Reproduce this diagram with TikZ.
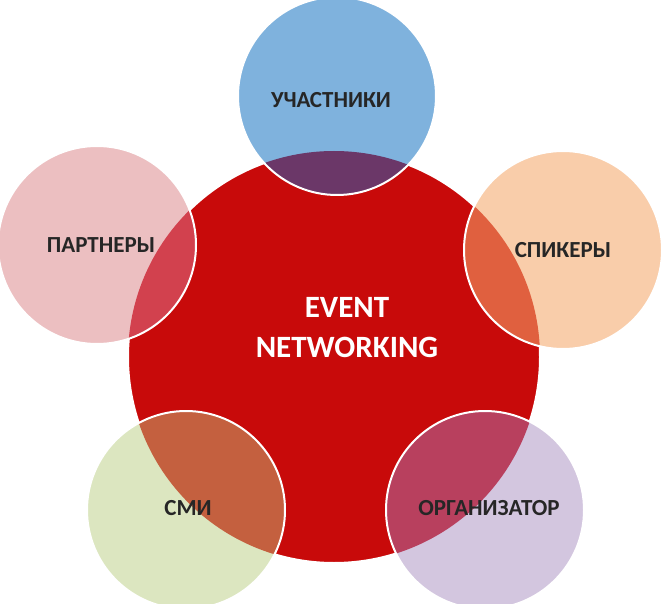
\documentclass[tikz,border=0pt]{standalone}
\usepackage{fontspec}
\setmainfont{Carlito}
\tikzset{
  sat/.style={draw=white,line width=2pt},
  lab/.style={font=\bfseries\fontsize{23}{26}\selectfont,text=black!85}
}
\definecolor{hubred}{HTML}{C80A0A}
\begin{document}
\begin{tikzpicture}[x=1pt,y=-1pt]
  \useasboundingbox (0,0) rectangle (672,604);
  % Hub
  \fill[hubred,draw=white,line width=2pt] (334,357) circle (206);
  % Satellites: centre, colour, overlap colour
  \foreach \cx/\cy/\col/\ov in {337/96/7FB2DD/6B3768,
                                563/250/F9CDAA/E0603F,
                                97/245/ECBFC1/D2414E,
                                186/510/DCE6C0/C4603F,
                                485/510/D3C6DF/B8405E}{
    \definecolor{satcol}{HTML}{\col}
    \definecolor{ovcol}{HTML}{\ov}
    \fill[satcol] (\cx,\cy) circle (99);
    \begin{scope}
      \clip (334,357) circle (206);
      \fill[ovcol] (\cx,\cy) circle (99);
    \end{scope}
    \draw[sat] (\cx,\cy) circle (99);
  }
  % Labels
  \node[font=\bfseries\fontsize{31}{40}\selectfont,text=white,align=center] (hub) at (347,328) {EVENT\\NETWORKING};
  \node[lab] (members) at (331,100) {УЧАСТНИКИ};
  \node[lab] (speakers) at (563,250) {СПИКЕРЫ};
  \node[lab] (partners) at (101,245) {ПАРТНЕРЫ};
  \node[lab] (media) at (188,508) {СМИ};
  \node[lab] (organizer) at (489,508) {ОРГАНИЗАТОР};
\end{tikzpicture}
\end{document}
